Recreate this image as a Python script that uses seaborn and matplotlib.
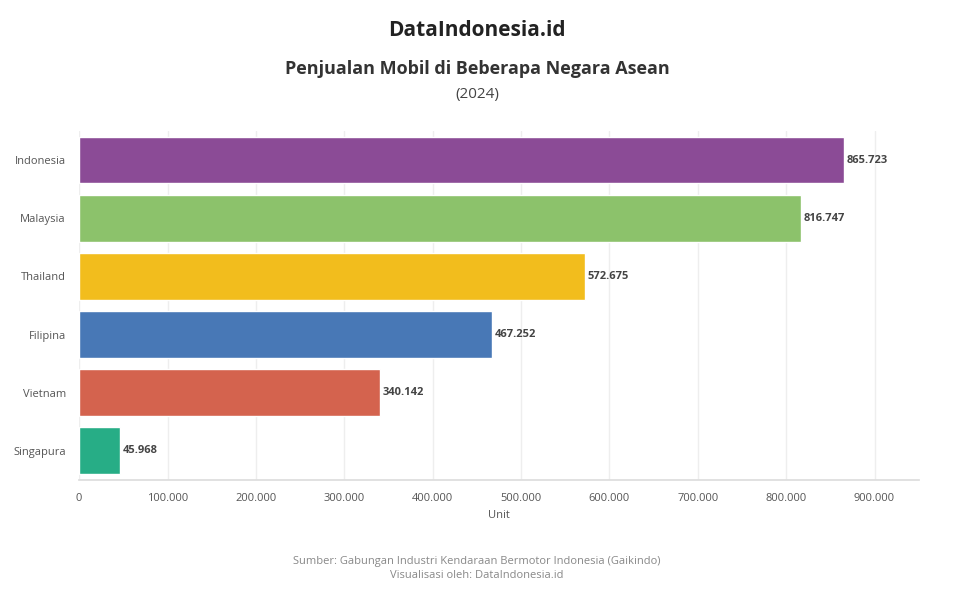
import matplotlib
matplotlib.use("Agg")
import matplotlib.pyplot as plt
import seaborn as sns
import pandas as pd
from matplotlib.ticker import FuncFormatter

countries = ["Indonesia", "Malaysia", "Thailand", "Filipina", "Vietnam", "Singapura"]
values = [865723, 816747, 572675, 467252, 340142, 45968]
colors = ["#8b4b96", "#8cc26b", "#f2bd1d", "#4878b6", "#d4634e", "#27ad86"]
ticks = list(range(0, 900001, 100000))

df = pd.DataFrame({"Negara": countries, "Unit": values})
sns.set_theme(style="white")
plt.rcParams['font.family'] = ['Open Sans', 'DejaVu Sans']

fig = plt.figure(figsize=(9.54, 5.96), dpi=100)
ax = fig.add_axes([0.083, 0.195, 0.88, 0.585])
sns.barplot(data=df, x="Unit", y="Negara", hue="Negara", palette=colors, legend=False,
            ax=ax, width=0.8, saturation=1)
fmt = lambda v: f"{int(v):,}".replace(",", ".")
for i, v in enumerate(values):
    ax.text(v + 3000, i, fmt(v), va="center", ha="left", fontsize=8, fontweight="bold", color="#444")
ax.set_xlim(0, 950000)
ax.set_xticks(ticks)
ax.xaxis.set_major_formatter(FuncFormatter(lambda v, p: fmt(v)))
ax.tick_params(axis="both", labelsize=8, colors="#555")
ax.set_xlabel("Unit", fontsize=8, color="#555")
ax.set_ylabel("")
ax.grid(axis="x", color="#eee")
for s in ["top", "right", "left"]:
    ax.spines[s].set_visible(False)
ax.spines["bottom"].set_color("#ddd")

fig.text(0.5, 0.94, "DataIndonesia.id", ha="center", fontsize=15, fontweight="bold", color="#222")
fig.text(0.5, 0.875, "Penjualan Mobil di Beberapa Negara Asean", ha="center", fontsize=13, fontweight="bold", color="#333")
fig.text(0.5, 0.835, "(2024)", ha="center", fontsize=11, color="#444")
fig.text(0.5, 0.03, "Sumber: Gabungan Industri Kendaraan Bermotor Indonesia (Gaikindo)\nVisualisasi oleh: DataIndonesia.id", ha="center", fontsize=8, color="#888", linespacing=1.4)
fig.savefig("out.png", dpi=100)
